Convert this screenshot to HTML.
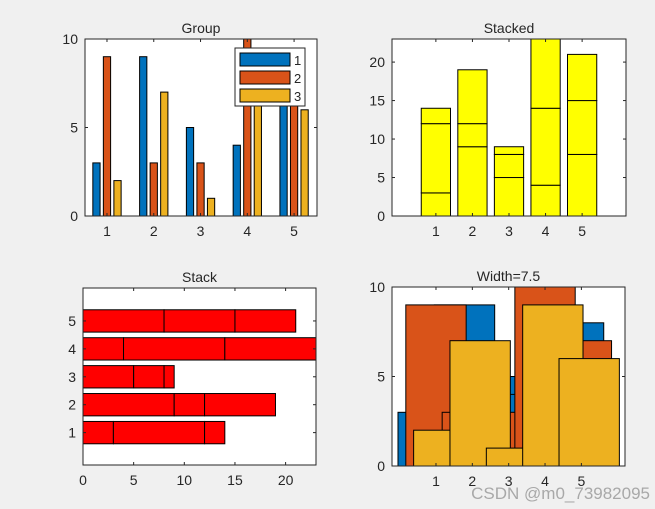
<!DOCTYPE html>
<html><head><meta charset="utf-8"><style>
body{margin:0;background:#f0f0f0;}
svg{display:block;font-family:"Liberation Sans",Arial,sans-serif;}
</style></head><body>
<svg id="fig" width="655" height="509"></svg>
<script>
const categories=[1,2,3,4,5];
const series1=[3,9,5,4,8];
const series2=[9,3,3,10,7];
const series3=[2,7,1,9,6];
const legendLabels=['1','2','3'];
const yTicksGroup=[0,5,10];
const yTicksStacked=[0,5,10,15,20];
const xTicksStack=[0,5,10,15,20];
const colors=['#0072BD','#D95319','#EDB120'];
const NS='http://www.w3.org/2000/svg';
const svg=document.getElementById('fig');
function el(tag,attrs,parent){const e=document.createElementNS(NS,tag);for(const k in attrs)e.setAttribute(k,attrs[k]);(parent||svg).appendChild(e);return e;}
function txt(x,y,s,anchor,size,parent){const t=el('text',{x:x,y:y,'text-anchor':anchor,'font-size':size,fill:'#262626'},parent);t.textContent=s;return t;}
function axes(name,L,T,R,B,xmin,xmax,ymin,ymax,title){
  const g=el('g',{});
  
  
  el('rect',{x:L,y:T,width:R-L,height:B-T,fill:'#fff'},g);
  const sx=v=>L+(v-xmin)/(xmax-xmin)*(R-L);
  const sy=v=>B-(v-ymin)/(ymax-ymin)*(B-T);
  const t=txt((L+R)/2,T-6,title,'middle',14,g);
  
  
  return {g,sx,sy,L,T,R,B};
}
function frame(a,xt,yt,xl,yl){
  const g=a.g;
  el('rect',{x:a.L,y:a.T,width:a.R-a.L,height:a.B-a.T,fill:'none',stroke:'#262626','stroke-width':1},g);
  xt.forEach((v,i)=>{const x=a.sx(v);
    el('line',{x1:x,y1:a.B,x2:x,y2:a.B-3,stroke:'#262626'},g);
    el('line',{x1:x,y1:a.T,x2:x,y2:a.T+3,stroke:'#262626'},g);
    const t=txt(x,a.B+20,xl[i],'middle',14,g);
    
    });
  yt.forEach((v,i)=>{const y=a.sy(v);
    el('line',{x1:a.L,y1:y,x2:a.L+3,y2:y,stroke:'#262626'},g);
    el('line',{x1:a.R,y1:y,x2:a.R-3,y2:y,stroke:'#262626'},g);
    const t=txt(a.L-7,y+5,yl[i],'end',14,g);
    
    });
}
function vbar(a,xc,w,y0,y1,fill,name){
  const x0=a.sx(xc-w/2),x1=a.sx(xc+w/2);
  const r=el('rect',{x:x0,y:a.sy(y1),width:x1-x0,height:a.sy(y0)-a.sy(y1),fill:fill,stroke:'#000','stroke-width':1},a.g);
  
  
}
const all=[series1,series2,series3];
// Group
let a=axes('group-chart',85,39,317,216,0.53,5.49,0,10,'Group');
const offs=[-0.225,0,0.225];
all.forEach((s,k)=>s.forEach((v,i)=>vbar(a,categories[i]+offs[k],0.155,0,Math.min(v,10),colors[k],'bar-s'+(k+1)+'-'+categories[i])));
frame(a,categories,yTicksGroup,categories.map(String),yTicksGroup.map(String));
// legend
const lg=el('g',{});


el('rect',{x:235,y:48,width:70,height:58,fill:'#fff',stroke:'#262626'},lg);
legendLabels.forEach((l,k)=>{const r=el('rect',{x:240,y:53+k*18,width:50,height:13,fill:colors[k],stroke:'#000'},lg);
  
  
  const t=txt(294,65+k*18,l,'start',13,lg);
  
  });
// Stacked
a=axes('stacked-chart',392,39,626,216,-0.2,6.2,0,23,'Stacked');
categories.forEach((c,i)=>{let b=0;all.forEach((s,k)=>{const top=Math.min(b+s[i],23);vbar(a,c,0.8,b,top,'#ffff00','stacked-seg-'+c+'-'+(k+1));b+=s[i];});});
frame(a,categories,yTicksStacked,categories.map(String),yTicksStacked.map(String));
// Stack horizontal
a=axes('stack-chart',83,288,316,465,0,23,-0.16,6.18,'Stack');
categories.forEach((c,i)=>{let b=0;all.forEach((s,k)=>{const e=Math.min(b+s[i],23);
  const y0=a.sy(c+0.4),y1=a.sy(c-0.4);
  const r=el('rect',{x:a.sx(b),y:y0,width:a.sx(e)-a.sx(b),height:y1-y0,fill:'#ff0000',stroke:'#000'},a.g);
  
  
  b+=s[i];});});
frame(a,xTicksStack,categories,xTicksStack.map(String),categories.map(String));
// Width=7.5
a=axes('width-chart',392,287,625,466,-0.21,6.2,0,10,'Width=7.5');
const wo=[-0.215,0,0.215];
all.forEach((s,k)=>s.forEach((v,i)=>vbar(a,categories[i]+wo[k],1.66,0,Math.min(v,10),colors[k],'wide-bar-s'+(k+1)+'-'+categories[i])));
frame(a,categories,yTicksGroup,categories.map(String),yTicksGroup.map(String));
// watermark
const wm=txt(650,499,'CSDN @m0_73982095','end',17,svg);
wm.setAttribute('fill','rgba(150,150,150,0.8)');


</script>
</body></html>
